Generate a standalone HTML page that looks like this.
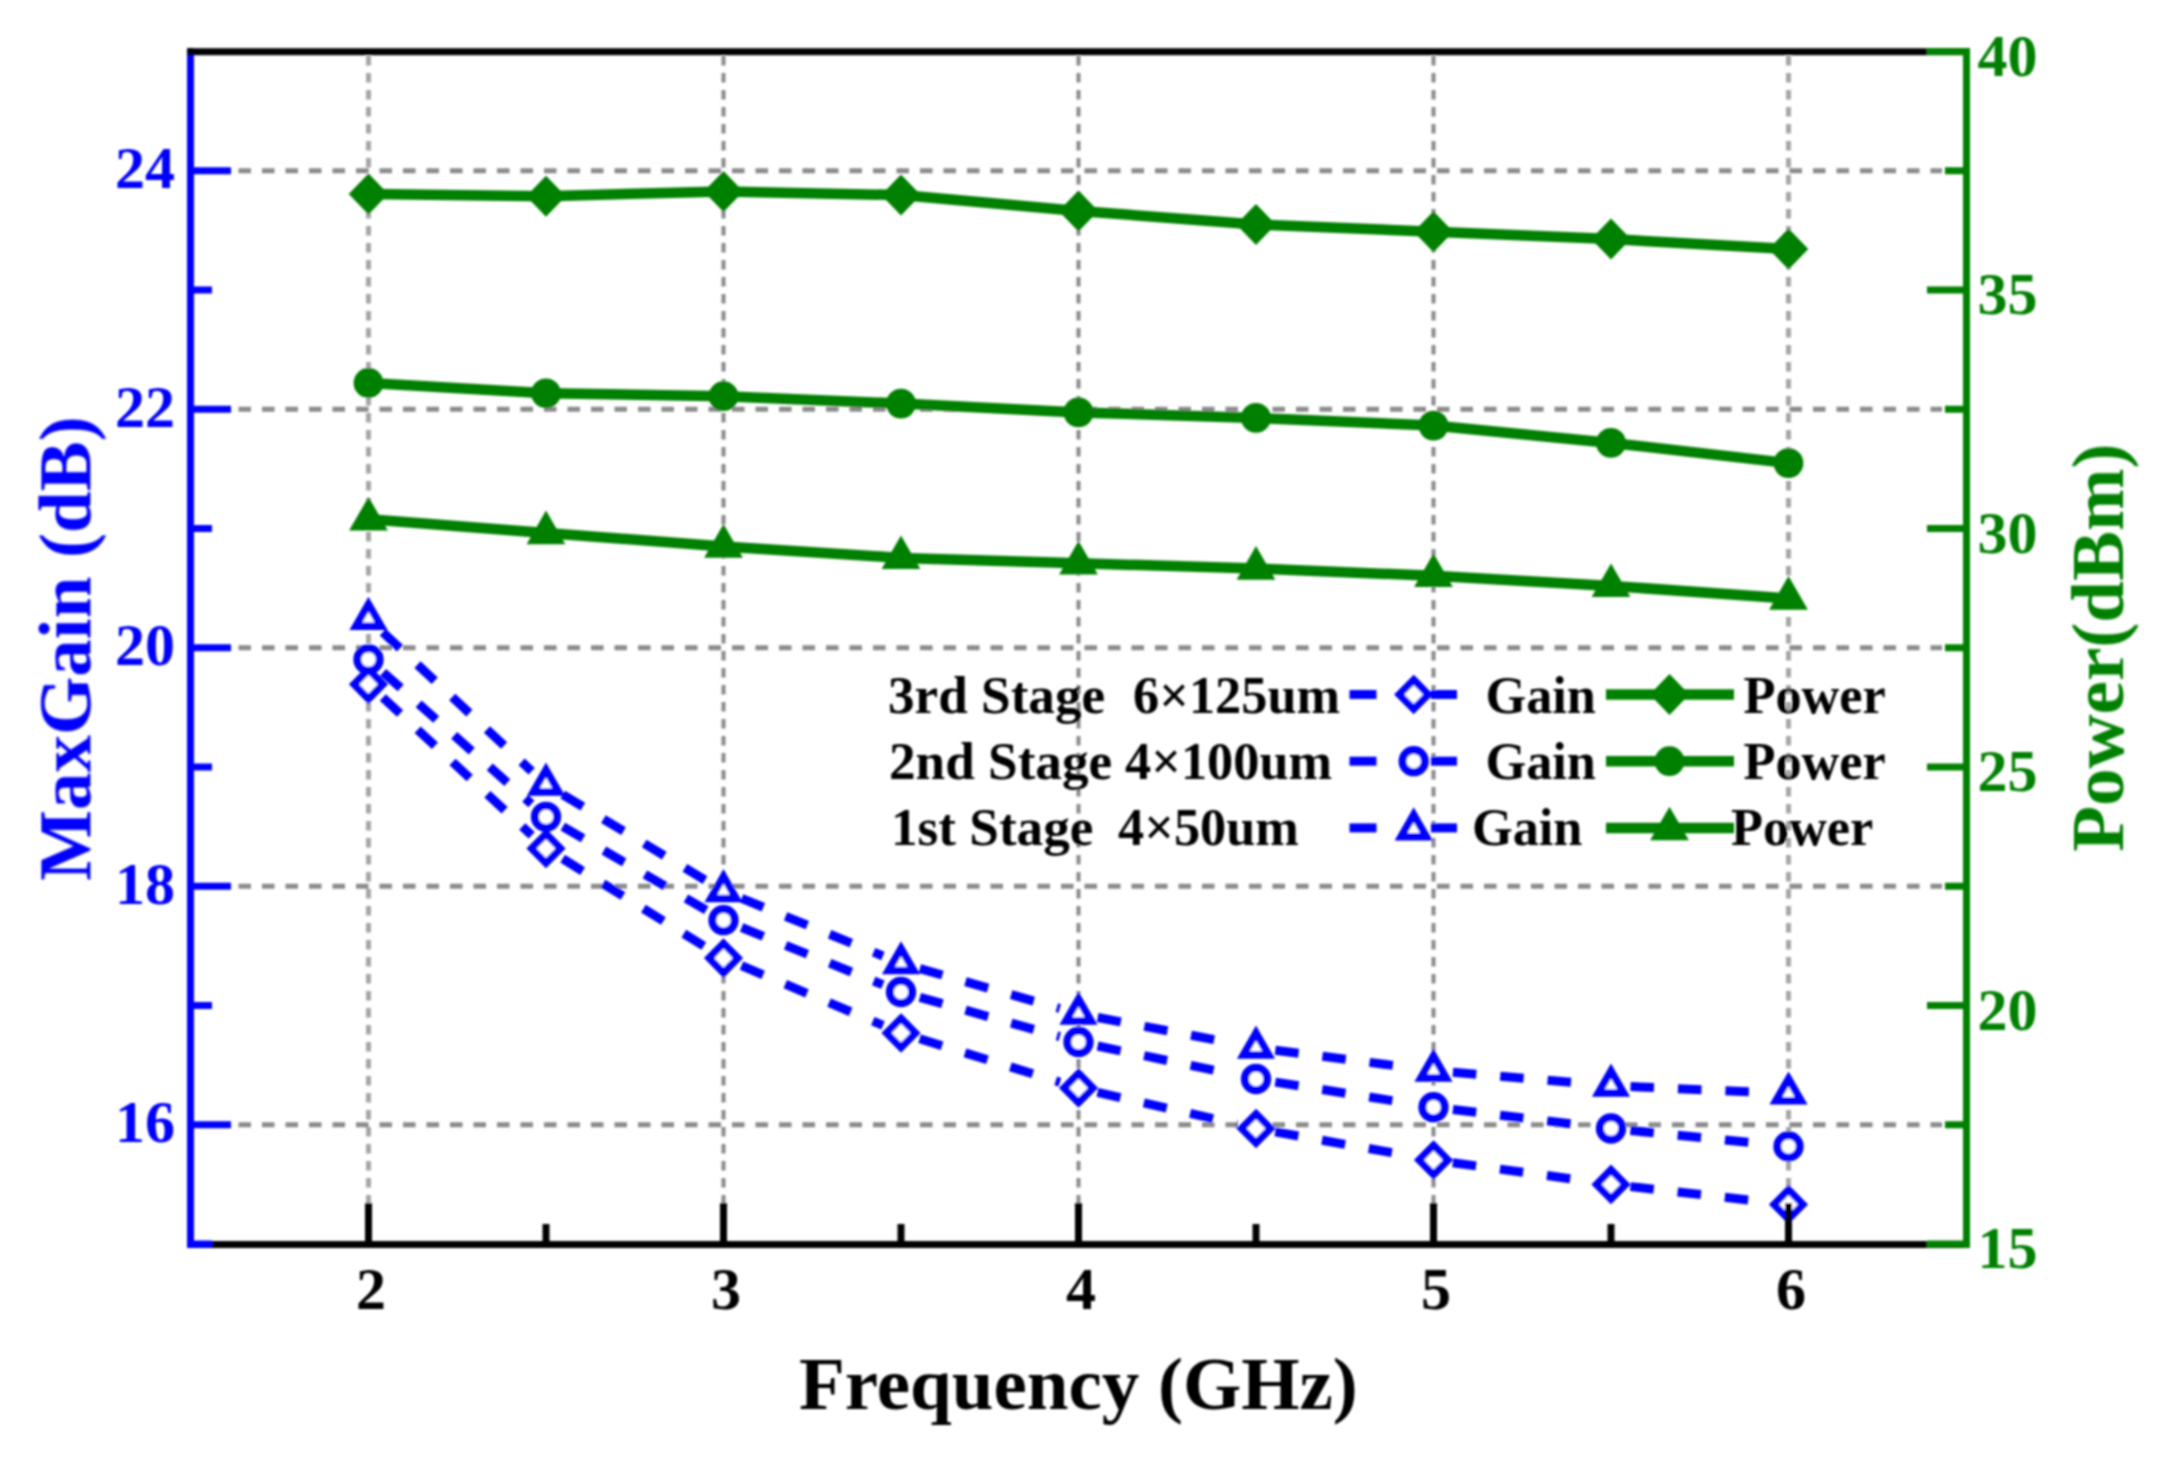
<!DOCTYPE html>
<html><head><meta charset="utf-8"><title>MaxGain and Power vs Frequency</title>
<style>html,body{margin:0;padding:0;background:#fff}svg{display:block}text{font-family:"Liberation Serif","Times New Roman",serif;font-weight:bold}</style>
</head><body>
<svg width="2179" height="1458" viewBox="0 0 2179 1458">
<rect width="2179" height="1458" fill="#fff"/>
<defs><filter id="soft" x="0" y="0" width="2179" height="1458" filterUnits="userSpaceOnUse"><feGaussianBlur stdDeviation="0.8"/></filter></defs>
<g filter="url(#soft)">
<g stroke="#8a8a8a" fill="none">
<line x1="368.5" y1="56" x2="368.5" y2="1203" stroke-width="5" stroke="#a6a6a6" stroke-dasharray="9.5 7.5"/>
<line x1="723.5" y1="56" x2="723.5" y2="1203" stroke-width="4" stroke="#8a8a8a" stroke-dasharray="9.5 7.5"/>
<line x1="1078.5" y1="56" x2="1078.5" y2="1203" stroke-width="4" stroke="#8a8a8a" stroke-dasharray="9.5 7.5"/>
<line x1="1433.5" y1="56" x2="1433.5" y2="1203" stroke-width="4" stroke="#8a8a8a" stroke-dasharray="9.5 7.5"/>
<line x1="1788.5" y1="56" x2="1788.5" y2="1203" stroke-width="5" stroke="#a6a6a6" stroke-dasharray="9.5 7.5"/>
<line x1="238.5" y1="170.75" x2="1942" y2="170.75" stroke-width="5" stroke-dasharray="12.5 11"/>
<line x1="238.5" y1="409.25" x2="1942" y2="409.25" stroke-width="5" stroke-dasharray="12.5 11"/>
<line x1="238.5" y1="647.75" x2="1942" y2="647.75" stroke-width="5" stroke-dasharray="12.5 11"/>
<line x1="238.5" y1="886.25" x2="1942" y2="886.25" stroke-width="5" stroke-dasharray="12.5 11"/>
<line x1="238.5" y1="1124.75" x2="1942" y2="1124.75" stroke-width="5" stroke-dasharray="12.5 11"/>
</g>
<g id="blue">
<line x1="382.8" y1="697.5" x2="531.7" y2="835.3" stroke="#0000ff" stroke-width="9" stroke-dasharray="23.5 24"/>
<line x1="562.6" y1="858.7" x2="706.9" y2="947.9" stroke="#0000ff" stroke-width="9" stroke-dasharray="23.5 24"/>
<line x1="741.5" y1="965.7" x2="883.0" y2="1025.4" stroke="#0000ff" stroke-width="9" stroke-dasharray="23.5 24"/>
<line x1="919.6" y1="1038.8" x2="1059.9" y2="1082.2" stroke="#0000ff" stroke-width="9" stroke-dasharray="23.5 24"/>
<line x1="1097.5" y1="1092.3" x2="1237.0" y2="1124.2" stroke="#0000ff" stroke-width="9" stroke-dasharray="23.5 24"/>
<line x1="1275.2" y1="1131.9" x2="1414.3" y2="1156.6" stroke="#0000ff" stroke-width="9" stroke-dasharray="23.5 24"/>
<line x1="1452.8" y1="1162.7" x2="1591.7" y2="1181.7" stroke="#0000ff" stroke-width="9" stroke-dasharray="23.5 24"/>
<line x1="1630.4" y1="1186.6" x2="1769.1" y2="1202.3" stroke="#0000ff" stroke-width="9" stroke-dasharray="23.5 24"/>
<polygon points="368.5,669.7 382.9,684.3 368.5,698.9 354.1,684.3" fill="#fff" stroke="#0000ff" stroke-width="7.4" stroke-linejoin="miter"/>
<polygon points="546.0,833.9 560.4,848.5 546.0,863.1 531.6,848.5" fill="#fff" stroke="#0000ff" stroke-width="7.4" stroke-linejoin="miter"/>
<polygon points="723.5,943.5 737.9,958.1 723.5,972.7 709.1,958.1" fill="#fff" stroke="#0000ff" stroke-width="7.4" stroke-linejoin="miter"/>
<polygon points="901.0,1018.4 915.4,1033.0 901.0,1047.6 886.6,1033.0" fill="#fff" stroke="#0000ff" stroke-width="7.4" stroke-linejoin="miter"/>
<polygon points="1078.5,1073.4 1092.9,1088.0 1078.5,1102.6 1064.1,1088.0" fill="#fff" stroke="#0000ff" stroke-width="7.4" stroke-linejoin="miter"/>
<polygon points="1256.0,1113.9 1270.4,1128.5 1256.0,1143.1 1241.6,1128.5" fill="#fff" stroke="#0000ff" stroke-width="7.4" stroke-linejoin="miter"/>
<polygon points="1433.5,1145.4 1447.9,1160.0 1433.5,1174.6 1419.1,1160.0" fill="#fff" stroke="#0000ff" stroke-width="7.4" stroke-linejoin="miter"/>
<polygon points="1611.0,1169.8 1625.4,1184.4 1611.0,1199.0 1596.6,1184.4" fill="#fff" stroke="#0000ff" stroke-width="7.4" stroke-linejoin="miter"/>
<polygon points="1788.5,1189.9 1802.9,1204.5 1788.5,1219.1 1774.1,1204.5" fill="#fff" stroke="#0000ff" stroke-width="7.4" stroke-linejoin="miter"/>
<line x1="383.1" y1="672.4" x2="531.4" y2="803.9" stroke="#0000ff" stroke-width="9" stroke-dasharray="23.5 24"/>
<line x1="562.8" y1="826.6" x2="706.7" y2="910.4" stroke="#0000ff" stroke-width="9" stroke-dasharray="23.5 24"/>
<line x1="741.6" y1="927.5" x2="882.9" y2="984.7" stroke="#0000ff" stroke-width="9" stroke-dasharray="23.5 24"/>
<line x1="919.8" y1="997.3" x2="1059.7" y2="1036.7" stroke="#0000ff" stroke-width="9" stroke-dasharray="23.5 24"/>
<line x1="1097.6" y1="1046.0" x2="1236.9" y2="1075.0" stroke="#0000ff" stroke-width="9" stroke-dasharray="23.5 24"/>
<line x1="1275.3" y1="1082.1" x2="1414.2" y2="1104.1" stroke="#0000ff" stroke-width="9" stroke-dasharray="23.5 24"/>
<line x1="1452.9" y1="1109.5" x2="1591.6" y2="1126.2" stroke="#0000ff" stroke-width="9" stroke-dasharray="23.5 24"/>
<line x1="1630.4" y1="1130.5" x2="1769.1" y2="1144.4" stroke="#0000ff" stroke-width="9" stroke-dasharray="23.5 24"/>
<circle cx="368.5" cy="659.5" r="11.2" fill="#fff" stroke="#0000ff" stroke-width="7.9"/>
<circle cx="546.0" cy="816.8" r="11.2" fill="#fff" stroke="#0000ff" stroke-width="7.9"/>
<circle cx="723.5" cy="920.2" r="11.2" fill="#fff" stroke="#0000ff" stroke-width="7.9"/>
<circle cx="901.0" cy="992.0" r="11.2" fill="#fff" stroke="#0000ff" stroke-width="7.9"/>
<circle cx="1078.5" cy="1042.0" r="11.2" fill="#fff" stroke="#0000ff" stroke-width="7.9"/>
<circle cx="1256.0" cy="1079.0" r="11.2" fill="#fff" stroke="#0000ff" stroke-width="7.9"/>
<circle cx="1433.5" cy="1107.2" r="11.2" fill="#fff" stroke="#0000ff" stroke-width="7.9"/>
<circle cx="1611.0" cy="1128.5" r="11.2" fill="#fff" stroke="#0000ff" stroke-width="7.9"/>
<circle cx="1788.5" cy="1146.4" r="11.2" fill="#fff" stroke="#0000ff" stroke-width="7.9"/>
<line x1="382.8" y1="632.2" x2="531.7" y2="771.3" stroke="#0000ff" stroke-width="9" stroke-dasharray="23.5 24"/>
<line x1="562.7" y1="794.6" x2="706.8" y2="881.1" stroke="#0000ff" stroke-width="9" stroke-dasharray="23.5 24"/>
<line x1="741.6" y1="898.4" x2="882.9" y2="956.0" stroke="#0000ff" stroke-width="9" stroke-dasharray="23.5 24"/>
<line x1="919.8" y1="968.6" x2="1059.7" y2="1008.5" stroke="#0000ff" stroke-width="9" stroke-dasharray="23.5 24"/>
<line x1="1097.7" y1="1017.5" x2="1236.8" y2="1044.0" stroke="#0000ff" stroke-width="9" stroke-dasharray="23.5 24"/>
<line x1="1275.3" y1="1050.2" x2="1414.2" y2="1068.1" stroke="#0000ff" stroke-width="9" stroke-dasharray="23.5 24"/>
<line x1="1452.9" y1="1072.3" x2="1591.6" y2="1084.0" stroke="#0000ff" stroke-width="9" stroke-dasharray="23.5 24"/>
<line x1="1630.5" y1="1086.6" x2="1769.0" y2="1092.6" stroke="#0000ff" stroke-width="9" stroke-dasharray="23.5 24"/>
<polygon points="368.5,604.3 381.1,626.2 355.9,626.2" fill="#fff" stroke="#0000ff" stroke-width="7.5" stroke-linejoin="miter"/>
<polygon points="546.0,770.0 558.6,791.9 533.4,791.9" fill="#fff" stroke="#0000ff" stroke-width="7.5" stroke-linejoin="miter"/>
<polygon points="723.5,876.5 736.1,898.4 710.9,898.4" fill="#fff" stroke="#0000ff" stroke-width="7.5" stroke-linejoin="miter"/>
<polygon points="901.0,948.7 913.6,970.6 888.4,970.6" fill="#fff" stroke="#0000ff" stroke-width="7.5" stroke-linejoin="miter"/>
<polygon points="1078.5,999.2 1091.1,1021.1 1065.9,1021.1" fill="#fff" stroke="#0000ff" stroke-width="7.5" stroke-linejoin="miter"/>
<polygon points="1256.0,1033.1 1268.6,1055.0 1243.4,1055.0" fill="#fff" stroke="#0000ff" stroke-width="7.5" stroke-linejoin="miter"/>
<polygon points="1433.5,1056.0 1446.1,1077.9 1420.9,1077.9" fill="#fff" stroke="#0000ff" stroke-width="7.5" stroke-linejoin="miter"/>
<polygon points="1611.0,1071.1 1623.6,1093.0 1598.4,1093.0" fill="#fff" stroke="#0000ff" stroke-width="7.5" stroke-linejoin="miter"/>
<polygon points="1788.5,1078.9 1801.1,1100.8 1775.9,1100.8" fill="#fff" stroke="#0000ff" stroke-width="7.5" stroke-linejoin="miter"/>
</g>
<g id="green">
<polyline points="368.5,194.0 546.0,196.2 723.5,191.4 901.0,195.1 1078.5,210.9 1256.0,224.4 1433.5,231.8 1611.0,239.1 1788.5,249.0" fill="none" stroke="#008000" stroke-width="10.5" stroke-linejoin="round"/>
<polygon points="368.5,173.5 388.3,194.0 368.5,214.5 348.7,194.0" fill="#008000"/>
<polygon points="546.0,175.7 565.8,196.2 546.0,216.7 526.2,196.2" fill="#008000"/>
<polygon points="723.5,170.9 743.3,191.4 723.5,211.9 703.7,191.4" fill="#008000"/>
<polygon points="901.0,174.6 920.8,195.1 901.0,215.6 881.2,195.1" fill="#008000"/>
<polygon points="1078.5,190.4 1098.3,210.9 1078.5,231.4 1058.7,210.9" fill="#008000"/>
<polygon points="1256.0,203.9 1275.8,224.4 1256.0,244.9 1236.2,224.4" fill="#008000"/>
<polygon points="1433.5,211.3 1453.3,231.8 1433.5,252.3 1413.7,231.8" fill="#008000"/>
<polygon points="1611.0,218.6 1630.8,239.1 1611.0,259.6 1591.2,239.1" fill="#008000"/>
<polygon points="1788.5,228.5 1808.3,249.0 1788.5,269.5 1768.7,249.0" fill="#008000"/>
<polyline points="368.5,383.0 546.0,393.3 723.5,396.2 901.0,403.6 1078.5,412.4 1256.0,417.9 1433.5,425.6 1611.0,442.9 1788.5,463.1" fill="none" stroke="#008000" stroke-width="10.5" stroke-linejoin="round"/>
<circle cx="368.5" cy="383.0" r="14.9" fill="#008000"/>
<circle cx="546.0" cy="393.3" r="14.9" fill="#008000"/>
<circle cx="723.5" cy="396.2" r="14.9" fill="#008000"/>
<circle cx="901.0" cy="403.6" r="14.9" fill="#008000"/>
<circle cx="1078.5" cy="412.4" r="14.9" fill="#008000"/>
<circle cx="1256.0" cy="417.9" r="14.9" fill="#008000"/>
<circle cx="1433.5" cy="425.6" r="14.9" fill="#008000"/>
<circle cx="1611.0" cy="442.9" r="14.9" fill="#008000"/>
<circle cx="1788.5" cy="463.1" r="14.9" fill="#008000"/>
<polyline points="368.5,519.3 546.0,533.0 723.5,546.5 901.0,557.9 1078.5,563.3 1256.0,568.5 1433.5,575.8 1611.0,585.9 1788.5,598.5" fill="none" stroke="#008000" stroke-width="10.5" stroke-linejoin="round"/>
<polygon points="368.5,496.9 387.9,530.5 349.1,530.5" fill="#008000"/>
<polygon points="546.0,510.6 565.4,544.2 526.6,544.2" fill="#008000"/>
<polygon points="723.5,524.1 742.9,557.7 704.1,557.7" fill="#008000"/>
<polygon points="901.0,535.5 920.4,569.1 881.6,569.1" fill="#008000"/>
<polygon points="1078.5,540.9 1097.9,574.5 1059.1,574.5" fill="#008000"/>
<polygon points="1256.0,546.1 1275.4,579.7 1236.6,579.7" fill="#008000"/>
<polygon points="1433.5,553.4 1452.9,587.0 1414.1,587.0" fill="#008000"/>
<polygon points="1611.0,563.5 1630.4,597.1 1591.6,597.1" fill="#008000"/>
<polygon points="1788.5,576.1 1807.9,609.7 1769.1,609.7" fill="#008000"/>
</g>
<line x1="187.0" y1="1244.5" x2="1963.0" y2="1244.5" stroke="#000" stroke-width="7"/>
<line x1="190.5" y1="48.0" x2="190.5" y2="1248.0" stroke="#0000ff" stroke-width="7"/>
<line x1="1966.5" y1="48.0" x2="1966.5" y2="1248.0" stroke="#008000" stroke-width="7"/>
<line x1="187.0" y1="51.7" x2="1963.0" y2="51.7" stroke="#000" stroke-width="7"/>
<line x1="368.5" y1="1203" x2="368.5" y2="1244.5" stroke="#000" stroke-width="7"/>
<line x1="546.0" y1="1224" x2="546.0" y2="1244.5" stroke="#000" stroke-width="7"/>
<line x1="723.5" y1="1203" x2="723.5" y2="1244.5" stroke="#000" stroke-width="7"/>
<line x1="901.0" y1="1224" x2="901.0" y2="1244.5" stroke="#000" stroke-width="7"/>
<line x1="1078.5" y1="1203" x2="1078.5" y2="1244.5" stroke="#000" stroke-width="7"/>
<line x1="1256.0" y1="1224" x2="1256.0" y2="1244.5" stroke="#000" stroke-width="7"/>
<line x1="1433.5" y1="1203" x2="1433.5" y2="1244.5" stroke="#000" stroke-width="7"/>
<line x1="1611.0" y1="1224" x2="1611.0" y2="1244.5" stroke="#000" stroke-width="7"/>
<line x1="1788.5" y1="1203" x2="1788.5" y2="1244.5" stroke="#000" stroke-width="7"/>
<line x1="190.5" y1="1244.00" x2="212" y2="1244.00" stroke="#0000ff" stroke-width="7"/>
<line x1="190.5" y1="1124.75" x2="231" y2="1124.75" stroke="#0000ff" stroke-width="7"/>
<line x1="190.5" y1="1005.50" x2="212" y2="1005.50" stroke="#0000ff" stroke-width="7"/>
<line x1="190.5" y1="886.25" x2="231" y2="886.25" stroke="#0000ff" stroke-width="7"/>
<line x1="190.5" y1="767.00" x2="212" y2="767.00" stroke="#0000ff" stroke-width="7"/>
<line x1="190.5" y1="647.75" x2="231" y2="647.75" stroke="#0000ff" stroke-width="7"/>
<line x1="190.5" y1="528.50" x2="212" y2="528.50" stroke="#0000ff" stroke-width="7"/>
<line x1="190.5" y1="409.25" x2="231" y2="409.25" stroke="#0000ff" stroke-width="7"/>
<line x1="190.5" y1="290.00" x2="212" y2="290.00" stroke="#0000ff" stroke-width="7"/>
<line x1="190.5" y1="170.75" x2="231" y2="170.75" stroke="#0000ff" stroke-width="7"/>
<line x1="1927" y1="51.50" x2="1966.5" y2="51.50" stroke="#008000" stroke-width="7"/>
<line x1="1945" y1="170.75" x2="1966.5" y2="170.75" stroke="#008000" stroke-width="7"/>
<line x1="1927" y1="290.00" x2="1966.5" y2="290.00" stroke="#008000" stroke-width="7"/>
<line x1="1945" y1="409.25" x2="1966.5" y2="409.25" stroke="#008000" stroke-width="7"/>
<line x1="1927" y1="528.50" x2="1966.5" y2="528.50" stroke="#008000" stroke-width="7"/>
<line x1="1945" y1="647.75" x2="1966.5" y2="647.75" stroke="#008000" stroke-width="7"/>
<line x1="1927" y1="767.00" x2="1966.5" y2="767.00" stroke="#008000" stroke-width="7"/>
<line x1="1945" y1="886.25" x2="1966.5" y2="886.25" stroke="#008000" stroke-width="7"/>
<line x1="1927" y1="1005.50" x2="1966.5" y2="1005.50" stroke="#008000" stroke-width="7"/>
<line x1="1945" y1="1124.75" x2="1966.5" y2="1124.75" stroke="#008000" stroke-width="7"/>
<line x1="1927" y1="1244.00" x2="1966.5" y2="1244.00" stroke="#008000" stroke-width="7"/>
<text x="175" y="1142.2" font-size="60" fill="#0000ff" text-anchor="end">16</text>
<text x="175" y="903.8" font-size="60" fill="#0000ff" text-anchor="end">18</text>
<text x="175" y="665.2" font-size="60" fill="#0000ff" text-anchor="end">20</text>
<text x="175" y="426.8" font-size="60" fill="#0000ff" text-anchor="end">22</text>
<text x="175" y="188.2" font-size="60" fill="#0000ff" text-anchor="end">24</text>
<text x="1977.5" y="75.8" font-size="60" fill="#008000">40</text>
<text x="1977.5" y="314.3" font-size="60" fill="#008000">35</text>
<text x="1977.5" y="552.8" font-size="60" fill="#008000">30</text>
<text x="1977.5" y="791.3" font-size="60" fill="#008000">25</text>
<text x="1977.5" y="1029.8" font-size="60" fill="#008000">20</text>
<text x="1977.5" y="1268.3" font-size="60" fill="#008000">15</text>
<text x="371.0" y="1309.3" font-size="60" fill="#000" text-anchor="middle">2</text>
<text x="726.0" y="1309.3" font-size="60" fill="#000" text-anchor="middle">3</text>
<text x="1081.0" y="1309.3" font-size="60" fill="#000" text-anchor="middle">4</text>
<text x="1436.0" y="1309.3" font-size="60" fill="#000" text-anchor="middle">5</text>
<text x="1791.0" y="1309.3" font-size="60" fill="#000" text-anchor="middle">6</text>
<text x="1078.4" y="1408.6" font-size="75" fill="#000" text-anchor="middle">Frequency (GHz)</text>
<text transform="translate(90.4,648.5) rotate(-90)" font-size="75" fill="#0000ff" text-anchor="middle">MaxGain (dB)</text>
<text transform="translate(2123,647.7) rotate(-90)" font-size="75" fill="#008000" text-anchor="middle">Power(dBm)</text>
<text x="888" y="712.5" font-size="53.2" fill="#000">3rd Stage</text>
<text x="1133" y="712.5" font-size="52.3" fill="#000">6×125um</text>
<line x1="1349.5" y1="694.5" x2="1376.5" y2="694.5" stroke="#0000ff" stroke-width="9"/>
<line x1="1431" y1="694.5" x2="1457" y2="694.5" stroke="#0000ff" stroke-width="9"/>
<polygon points="1413.7,679.9 1428.1,694.5 1413.7,709.1 1399.3,694.5" fill="#fff" stroke="#0000ff" stroke-width="7.4" stroke-linejoin="miter"/>
<text x="1485.5" y="712.5" font-size="52.3" fill="#000">Gain</text>
<line x1="1606" y1="694.5" x2="1734" y2="694.5" stroke="#008000" stroke-width="10.5"/>
<polygon points="1669.5,674.0 1689.3,694.5 1669.5,715.0 1649.7,694.5" fill="#008000"/>
<text x="1743.5" y="712.5" font-size="52.3" fill="#000">Power</text>
<text x="889" y="778.8" font-size="53.2" fill="#000">2nd Stage</text>
<text x="1125" y="778.8" font-size="52.3" fill="#000">4×100um</text>
<line x1="1349.5" y1="761.2" x2="1376.5" y2="761.2" stroke="#0000ff" stroke-width="9"/>
<line x1="1431" y1="761.2" x2="1457" y2="761.2" stroke="#0000ff" stroke-width="9"/>
<circle cx="1413.7" cy="761.2" r="11.2" fill="#fff" stroke="#0000ff" stroke-width="7.9"/>
<text x="1485.5" y="778.8" font-size="52.3" fill="#000">Gain</text>
<line x1="1606" y1="761.2" x2="1734" y2="761.2" stroke="#008000" stroke-width="10.5"/>
<circle cx="1669.5" cy="761.2" r="14.9" fill="#008000"/>
<text x="1743.5" y="778.8" font-size="52.3" fill="#000">Power</text>
<text x="891" y="844.8" font-size="53.2" fill="#000">1st Stage</text>
<text x="1118" y="844.8" font-size="52.3" fill="#000">4×50um</text>
<line x1="1349.5" y1="827.9" x2="1376.5" y2="827.9" stroke="#0000ff" stroke-width="9"/>
<line x1="1431" y1="827.9" x2="1457" y2="827.9" stroke="#0000ff" stroke-width="9"/>
<polygon points="1413.7,814.8 1426.3,836.7 1401.1,836.7" fill="#fff" stroke="#0000ff" stroke-width="7.5" stroke-linejoin="miter"/>
<text x="1472" y="844.8" font-size="52.3" fill="#000">Gain</text>
<line x1="1606" y1="827.9" x2="1734" y2="827.9" stroke="#008000" stroke-width="10.5"/>
<polygon points="1669.5,806.7 1688.9,840.3 1650.1,840.3" fill="#008000"/>
<text x="1731" y="844.8" font-size="52.3" fill="#000">Power</text>
</g>
</svg></body></html>
